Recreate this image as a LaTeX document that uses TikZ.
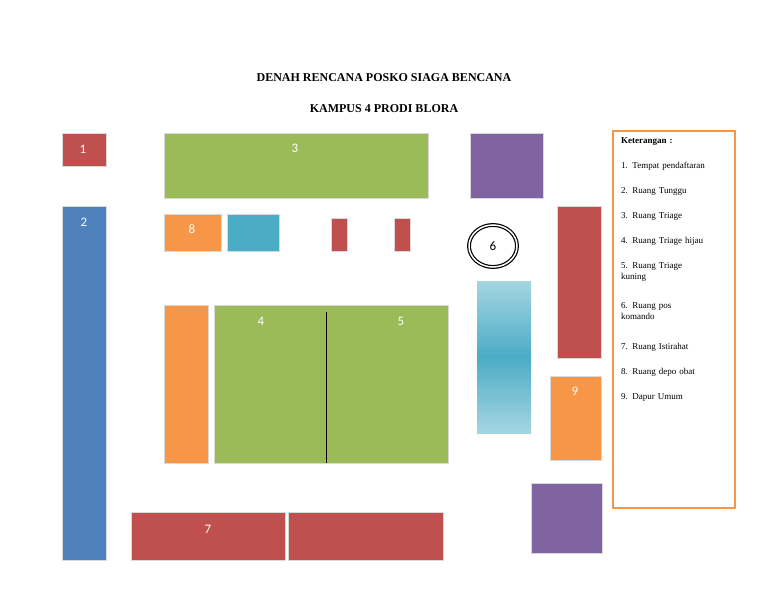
\documentclass[tikz,border=0pt]{standalone}
\usepackage{fontspec}
\setmainfont{Liberation Serif}
\newfontfamily\numfont{Carlito}
\definecolor{ored}{HTML}{C0504D}
\definecolor{oblue}{HTML}{4F81BD}
\definecolor{ogreen}{HTML}{9BBB59}
\definecolor{opurple}{HTML}{8064A2}
\definecolor{oorange}{HTML}{F79646}
\definecolor{ocyan}{HTML}{4BACC6}
\tikzset{
  room/.style={draw=white!85!black, line width=1pt},
  num/.style={text=white, font=\numfont\fontsize{13}{13}\selectfont},
  item/.style={anchor=north west, font=\fontsize{9}{11}\selectfont, align=left, text width=95pt, inner sep=0pt}
}
\begin{document}
\begin{tikzpicture}[x=1pt,y=-1pt]
  \useasboundingbox (0,0) rectangle (768,594);
  % title
  \node[font=\bfseries\fontsize{12}{14}\selectfont] (title) at (384,78) {DENAH RENCANA POSKO SIAGA BENCANA};
  \node[font=\bfseries\fontsize{12}{14}\selectfont] (subtitle) at (384,109) {KAMPUS 4 PRODI BLORA};
  % rooms
  \fill[ored, room] (62,133) rectangle (106,166);
  \node[num] (n1) at (83,149) {1};
  \fill[oblue, room] (62,206) rectangle (106,560);
  \node[num] (n2) at (84,222) {2};
  \fill[ogreen, room] (164,133) rectangle (428,198);
  \node[num] (n3) at (295,148) {3};
  \fill[opurple, room] (470,133) rectangle (543,198);
  \fill[oorange, room] (164,214) rectangle (221,251);
  \node[num] (n8) at (192,229) {8};
  \fill[ocyan, room] (227,214) rectangle (279,251);
  \fill[ored, room] (331,218) rectangle (347,251);
  \fill[ored, room] (394,218) rectangle (410,251);
  \draw[double, line width=1.2pt, double distance=1.5pt] (493,246) ellipse (24 and 21);
  \node[font=\numfont\fontsize{13}{13}\selectfont] (n6) at (493,246) {6};
  \fill[ored, room] (557,206) rectangle (601,358);
  \shade[top color=ocyan!50, bottom color=ocyan!50, middle color=ocyan] (477,281) rectangle (531,433);
  \fill[oorange, room] (164,305) rectangle (208,463);
  \fill[ogreen, room] (214,305) rectangle (448,463);
  \draw (326,312) -- (326,463);
  \node[num] (n4) at (261,321) {4};
  \node[num] (n5) at (401,321) {5};
  \fill[oorange, room] (550,376) rectangle (601,460);
  \node[num] (n9) at (575,391) {9};
  \fill[opurple, room] (531,483) rectangle (602,553);
  \fill[ored, room] (131,512) rectangle (285,560);
  \fill[ored, room] (288,512) rectangle (443,560);
  \node[num] (n7) at (208,529) {7};
  % legend
  \draw[oorange, line width=1.5pt] (613,131) rectangle (735,508);
  \node[item, font=\bfseries\fontsize{9}{11}\selectfont] (k0) at (621,137) {Keterangan :};
  \node[item] (k1) at (621,162) {1. Tempat pendaftaran};
  \node[item] (k2) at (621,187) {2. Ruang Tunggu};
  \node[item] (k3) at (621,212) {3. Ruang Triage};
  \node[item] (k4) at (621,237) {4. Ruang Triage hijau};
  \node[item] (k5) at (621,262) {5. Ruang Triage\\kuning};
  \node[item] (k6) at (621,302) {6. Ruang pos\\komando};
  \node[item] (k7) at (621,343) {7. Ruang Istirahat};
  \node[item] (k8) at (621,368) {8. Ruang depo obat};
  \node[item] (k9) at (621,393) {9. Dapur Umum};
\end{tikzpicture}
\end{document}
